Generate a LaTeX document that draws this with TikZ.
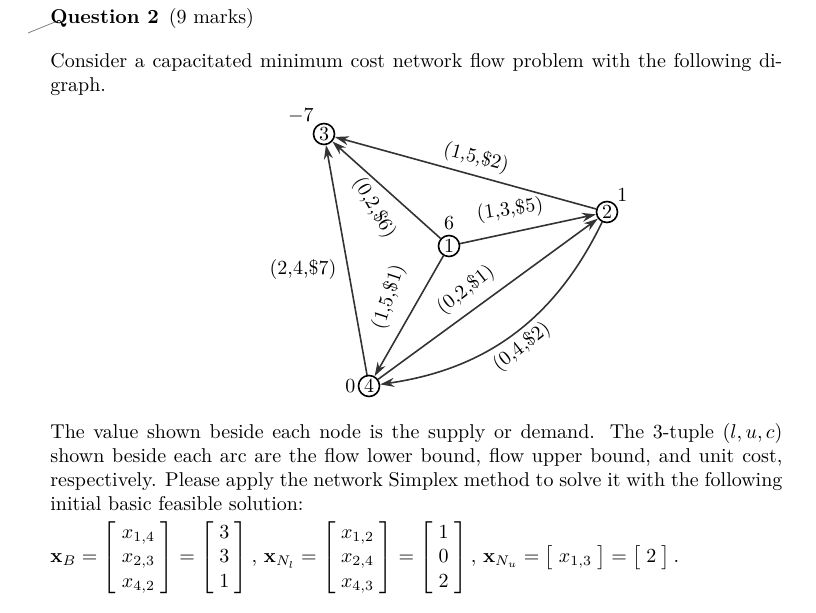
\documentclass[tikz,border=0pt]{standalone}
\usepackage{amsmath,amssymb}
\usetikzlibrary{arrows.meta}
\begin{document}
\begin{tikzpicture}[x=0.5pt,y=-0.5pt,
  vtx/.style={circle,draw,thick,inner sep=0pt,minimum size=10.5pt,font=\normalsize},
  arc/.style={thick,-{Stealth[length=7pt,width=4.5pt]},draw=black!80},
  lab/.style={font=\normalsize,inner sep=1pt},
  txt/.style={anchor=north west,inner sep=0pt,text width=366pt,align=justify,font=\normalsize}]
\useasboundingbox (0,0) rectangle (816,613);
\draw[gray,thin] (28,33) -- (60,20);
\node[anchor=west,inner sep=0pt] (q) at (50,19) {\textbf{Question 2}\enspace(9 marks)};
\node[txt] (p1) at (50,53) {\baselineskip=12.2pt Consider a capacitated minimum cost network flow problem with the following di-\linebreak graph.};
\node[vtx] (n3) at (324,134) {3};
\node[vtx] (n2) at (607,212) {2};
\node[vtx] (n1) at (449,246) {1};
\node[vtx] (n4) at (369,386) {4};
\node[anchor=south east,inner sep=1pt] (s3) at (n3.north west) {$-7$};
\node[anchor=south west,inner sep=1pt] (s2) at (n2.north east) {1};
\node[anchor=south,inner sep=2pt] (s1) at (n1.north) {6};
\node[anchor=east,inner sep=1pt] (s4) at (n4.west) {0};
\draw[arc] (n2) -- (n3);
\draw[arc] (n1) -- (n3);
\draw[arc] (n1) -- (n2);
\draw[arc] (n1) -- (n4);
\draw[arc] (n4) -- (n3);
\draw[arc] (n4) -- (n2);
\draw[arc] (n2) to[bend left=28] (n4);
\node[lab,rotate=-15] (l23) at (476,158) {(1,5,\$2)};
\node[lab,rotate=-60] (l13) at (374,208) {(0,2,\$6)};
\node[lab,rotate=8] (l12) at (510,210) {(1,3,\$5)};
\node[lab] (l43) at (303,270) {(2,4,\$7)};
\node[lab,rotate=72] (l14) at (389,297) {(1,5,\$1)};
\node[lab,rotate=38] (l42) at (466,290) {(0,2,\$1)};
\node[lab,rotate=38] (l24) at (522,347) {(0,4,\$2)};
\node[txt] (p2) at (50,423) {\baselineskip=12.2pt The value shown beside each node is the supply or demand. The 3-tuple $(l,u,c)$\linebreak shown beside each arc are the flow lower bound, flow upper bound, and unit cost,\linebreak respectively. Please apply the network Simplex method to solve it with the following\linebreak initial basic feasible solution:};
\node[anchor=west,inner sep=0pt] (eq) at (50,558) {\renewcommand{\arraystretch}{1.02}$\mathbf{x}_B=\begin{bmatrix}\;x_{1,4}\;\\x_{2,3}\\x_{4,2}\end{bmatrix}=\begin{bmatrix}\;3\;\\3\\1\end{bmatrix},\,
\mathbf{x}_{N_l}=\begin{bmatrix}\;x_{1,2}\;\\x_{2,4}\\x_{4,3}\end{bmatrix}=\begin{bmatrix}\;1\;\\0\\2\end{bmatrix},\,
\mathbf{x}_{N_u}=\begin{bmatrix}\;x_{1,3}\;\end{bmatrix}=\begin{bmatrix}\;2\;\end{bmatrix}.$};
\end{tikzpicture}
\end{document}
